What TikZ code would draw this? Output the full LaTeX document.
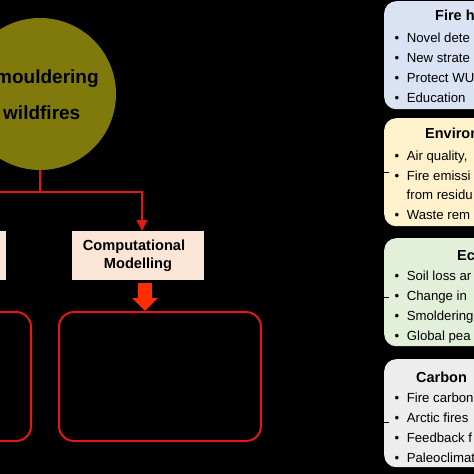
\documentclass[tikz,border=0pt]{standalone}
\usepackage{fontspec}
\setmainfont{Liberation Sans}
\usetikzlibrary{arrows.meta}

\definecolor{olivefill}{RGB}{127,122,11}
\definecolor{peach}{RGB}{251,229,214}
\definecolor{linered}{RGB}{228,22,22}
\definecolor{arrowred}{RGB}{255,45,0}
\definecolor{hazblue}{RGB}{218,227,243}
\definecolor{envyellow}{RGB}{255,242,204}
\definecolor{ecogreen}{RGB}{226,240,217}
\definecolor{carbgrey}{RGB}{237,237,237}

\begin{document}
\begin{tikzpicture}[x=1pt,y=-1pt,
    wire/.style={linered,line width=1.6pt},
    method/.style={fill=peach,minimum width=132pt,minimum height=49pt,inner sep=0pt,
        align=center,font=\bfseries\fontsize{14.6}{18}\selectfont},
    panel/.style={draw=linered,line width=2pt,rounded corners=15pt,
        minimum width=202pt,minimum height=129pt},
    blockarrow/.style={arrowred,line width=14pt,-{Triangle[width=25pt,length=13pt]}},
    impact/.style={rounded corners=12pt,minimum width=120pt,minimum height=108pt,
        anchor=north west,inner sep=0pt},
    heading/.style={anchor=base west,inner sep=0pt,font=\bfseries\fontsize{14.5}{16}\selectfont},
    item/.style={anchor=base west,inner sep=0pt,font=\fontsize{13.2}{15}\selectfont},
    tick/.style={black,line width=1pt}]

    % Frame and background
    \useasboundingbox (0,0) rectangle (474,474);
    \fill[black] (0,0) rectangle (474,474);

    % Central topic
    \node[circle,fill=olivefill,minimum size=152pt,inner sep=0pt] (fire) at (40,94) {};
    \node[anchor=base west,inner sep=0pt,font=\bfseries\fontsize{19}{22}\selectfont] (topicA) at (-5,83) {mouldering};
    \node[anchor=base west,inner sep=0pt,font=\bfseries\fontsize{19}{22}\selectfont] (topicB) at (3,119) {wildfires};

    % Methods
    \node[method,anchor=east] (lab) at (6,255.5) {};
    \node[method] (comp) at (138,255.5) {\hspace*{-8pt}Computational\\Modelling};
    \node[panel,anchor=east] (labPanel) at (32,376.5) {};
    \node[panel] (compPanel) at (160,376.5) {};

    % Connectors
    \coordinate (split) at (40,192);
    \coordinate (leftEnd) at (0,192);
    \draw[wire] (fire.south) -- (split);
    \draw[wire,-{Triangle[width=11pt,length=11pt]}] (leftEnd) -| ([xshift=4pt]comp.north);
    \draw[blockarrow] ([xshift=7pt,yshift=-3pt]comp.south) -- ([xshift=7pt]comp.south |- compPanel.north);

    % Impact boxes
    \node[impact,fill=hazblue] (hazard) at (384,1) {};
    \node[impact,fill=envyellow] (env) at (384,118) {};
    \node[impact,fill=ecogreen] (eco) at (384,238) {};
    \node[impact,fill=carbgrey] (carbon) at (384,359) {};

    \coordinate (envIn) at (372,172);
    \coordinate (ecoIn) at (372,297);
    \coordinate (carbonIn) at (372,422);
    \draw[tick] (envIn) -- (389,172);
    \draw[tick] (ecoIn) -- (389,297);
    \draw[tick] (carbonIn) -- (389,422);

    \node[heading] (hazardT) at (435,20) {Fire h};
    \node[item] (hazard1) at (394.5,42) {\textbullet\hspace{7.5pt}Novel dete};
    \node[item] (hazard2) at (394.5,62) {\textbullet\hspace{7.5pt}New strate};
    \node[item] (hazard3) at (394.5,82) {\textbullet\hspace{7.5pt}Protect WU};
    \node[item] (hazard4) at (394.5,102) {\textbullet\hspace{7.5pt}Education};

    \node[heading] (envT) at (425,138) {Environ};
    \node[item] (env1) at (394.5,160) {\textbullet\hspace{7.5pt}Air quality,};
    \node[item] (env2) at (394.5,180) {\textbullet\hspace{7.5pt}Fire emissi};
    \node[item] (env3) at (406.5,199) {from residu};
    \node[item] (env4) at (394.5,219) {\textbullet\hspace{7.5pt}Waste rem};

    \node[heading] (ecoT) at (457,260) {Ec};
    \node[item] (eco1) at (394.5,280) {\textbullet\hspace{7.5pt}Soil loss ar};
    \node[item] (eco2) at (394.5,300) {\textbullet\hspace{7.5pt}Change in};
    \node[item] (eco3) at (394.5,320) {\textbullet\hspace{7.5pt}Smoldering};
    \node[item] (eco4) at (394.5,340) {\textbullet\hspace{7.5pt}Global pea};

    \node[heading] (carbonT) at (416,382) {Carbon};
    \node[item] (carbon1) at (394.5,402) {\textbullet\hspace{7.5pt}Fire carbon};
    \node[item] (carbon2) at (394.5,422) {\textbullet\hspace{7.5pt}Arctic fires};
    \node[item] (carbon3) at (394.5,442) {\textbullet\hspace{7.5pt}Feedback f};
    \node[item] (carbon4) at (394.5,462) {\textbullet\hspace{7.5pt}Paleoclimat};
\end{tikzpicture}
\end{document}
